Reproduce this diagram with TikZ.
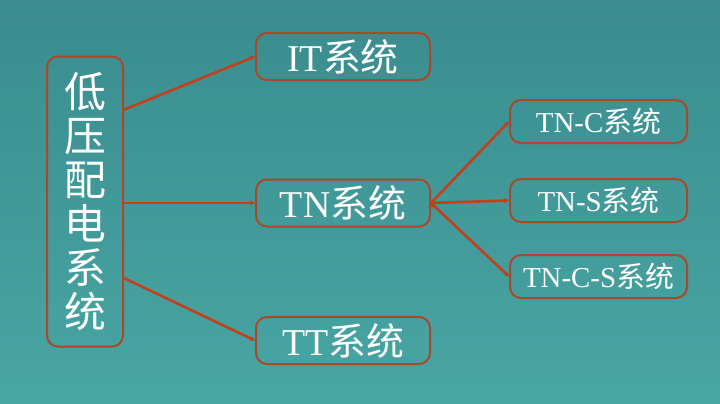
\documentclass[tikz,border=0pt]{standalone}
\usepackage{fontspec}
\setmainfont{Liberation Serif}
\newfontfamily\cjk{Noto Sans CJK SC}
\usepackage{xcolor}
\usetikzlibrary{arrows.meta,positioning}
\definecolor{teal1}{HTML}{3A8C8E}
\definecolor{teal2}{HTML}{48A6A3}
\definecolor{boxline}{HTML}{A9482A}
\definecolor{wire}{HTML}{C2401C}

\begin{document}
\begin{tikzpicture}[x=1bp,y=-1bp,->,>={Stealth[length=5bp,width=5bp]},
  box/.style={draw=boxline,line width=2bp,rounded corners=11bp,text=white,inner sep=0pt},
  big/.style={box,minimum width=174bp,minimum height=47bp,font=\fontsize{38}{40}\selectfont},
  small/.style={box,minimum width=177bp,minimum height=43bp,font=\fontsize{29}{31}\selectfont},
  wire/.style={draw=wire,line width=2.6bp}]

    % Background
	\fill[top color=teal1,bottom color=teal2,draw=none] (0,0) rectangle (720,403);
	\useasboundingbox (0,0) rectangle (720,403);

    % The tree
	\node [box,minimum width=76bp,minimum height=290bp,align=center,
	  font=\fontsize{42}{44}\selectfont\cjk] at (85,201.5) (root)
	  {低\\压\\配\\电\\系\\统};
	\node [big] at (343,56.5) (it) {IT{\cjk 系统}};
	\node [big] at (343,203) (tn) {TN{\cjk 系统}};
	\node [big] at (343,340.5) (tt) {TT{\cjk 系统}};

	\node [small] at (598.5,121.5) (tnc) {TN-C{\cjk 系统}};
	\node [small] at (598.5,200.5) (tns) {TN-S{\cjk 系统}};
	\node [small] at (598.5,276.5) (tncs) {TN-C-S{\cjk 系统}};

	% Tree edges
	\path[wire]
	(root.67) edge (it.west)
	(root.east |- tn.west) edge (tn.west)
	(root.-63) edge (tt.west)
	(tn.east) edge (tnc.west)
	(tn.east) edge (tns.west)
	(tn.east) edge (tncs.west);

\end{tikzpicture}
\end{document}
